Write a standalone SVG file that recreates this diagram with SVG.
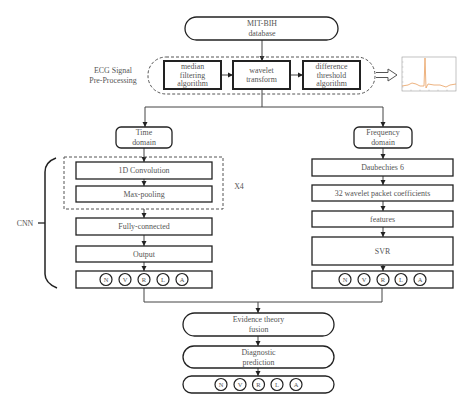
<svg xmlns="http://www.w3.org/2000/svg" width="474" height="411" viewBox="0 0 474 411">
<defs>
<marker id="ah" viewBox="0 0 10 10" refX="10" refY="5" markerWidth="5.5" markerHeight="5.5" orient="auto" markerUnits="userSpaceOnUse">
<path d="M0,0 L10,5 L0,10 z" fill="#222"/>
</marker>
<style>
.t{font-family:"Liberation Serif","DejaVu Serif",serif;font-size:7.9px;fill:#555;text-anchor:middle}
.b{fill:#fff;stroke:#222;stroke-width:1.3}
.bb{fill:#fff;stroke:#222;stroke-width:2}
.d{fill:none;stroke:#555;stroke-width:1;stroke-dasharray:3,2}
.c{fill:#fff;stroke:#222;stroke-width:1.2}
.ct{font-family:"Liberation Serif","DejaVu Serif",serif;font-size:6.5px;fill:#555;text-anchor:middle}
.ln{fill:none;stroke:#444;stroke-width:1}
.a{fill:none;stroke:#444;stroke-width:1;marker-end:url(#ah)}
</style>
</defs>
<rect width="474" height="411" fill="#fff"/>

<g id="connectors">
<line class="a" x1="262" y1="40" x2="262" y2="61"/>
<line class="a" x1="221" y1="75" x2="233" y2="75"/>
<line class="a" x1="290" y1="75" x2="303" y2="75"/>
<polyline class="ln" points="262,89 262,107"/>
<polyline class="a" points="145,107 145,127"/>
<polyline class="ln" points="145,107 383,107"/>
<polyline class="a" points="383,107 383,127"/>
<line class="a" x1="144" y1="148" x2="144" y2="162"/>
<line class="a" x1="144" y1="179" x2="144" y2="186"/>
<line class="a" x1="144" y1="209" x2="144" y2="218"/>
<line class="a" x1="144" y1="235" x2="144" y2="246"/>
<line class="a" x1="144" y1="262" x2="144" y2="271"/>
<line class="a" x1="383" y1="148" x2="383" y2="159"/>
<line class="a" x1="383" y1="176" x2="383" y2="185"/>
<line class="a" x1="383" y1="201" x2="383" y2="211"/>
<line class="a" x1="383" y1="227" x2="383" y2="237"/>
<line class="a" x1="383" y1="265" x2="383" y2="271"/>
<polyline class="ln" points="144,288 144,302 382,302 382,288"/>
<line class="a" x1="258" y1="302" x2="258" y2="313"/>
<line class="a" x1="258" y1="336" x2="258" y2="346"/>
<line class="a" x1="258" y1="368" x2="258" y2="376"/>
<path d="M376,72.5 L388,72.5 L388,69 L397,75 L388,81 L388,77.5 L376,77.5" fill="#fff" stroke="#555" stroke-width="1"/>
</g>

<g id="mitbih">
<rect class="b" x="185" y="17" width="153" height="23" rx="11.5"/>
<text class="t" x="262" y="26">MIT-BIH</text>
<text class="t" x="262" y="35.5">database</text>
</g>

<g id="preprocessing">
<rect class="d" x="148" y="57" width="227" height="37" rx="18"/>
<text class="t" x="113" y="73">ECG Signal</text>
<text class="t" x="113" y="83">Pre-Processing</text>
</g>
<g id="median">
<rect class="bb" x="164" y="61" width="57" height="28"/>
<text class="t" x="192.5" y="69">median</text>
<text class="t" x="192.5" y="77.5">filtering</text>
<text class="t" x="192.5" y="86">algorithm</text>
</g>
<g id="wavelet">
<rect class="bb" x="233" y="61" width="57" height="28"/>
<text class="t" x="261.5" y="73">wavelet</text>
<text class="t" x="261.5" y="82">transform</text>
</g>
<g id="difference">
<rect class="bb" x="303" y="61" width="57" height="28"/>
<text class="t" x="331.5" y="69">difference</text>
<text class="t" x="331.5" y="77.5">threshold</text>
<text class="t" x="331.5" y="86">algorithm</text>
</g>

<g id="ecgplot">
<rect x="402" y="57" width="54" height="34" fill="#fff" stroke="#999" stroke-width="0.6"/>
<polyline points="402,86 408,85 412,83 416,84 420,86 424,86 425,58 426,88 428,84 434,85 440,85 446,87 450,85 456,84" fill="none" stroke="#e8a060" stroke-width="0.8"/>
<g stroke="#999" stroke-width="0.4">
<line x1="411" y1="91" x2="411" y2="89.5"/><line x1="420" y1="91" x2="420" y2="89.5"/><line x1="429" y1="91" x2="429" y2="89.5"/><line x1="438" y1="91" x2="438" y2="89.5"/><line x1="447" y1="91" x2="447" y2="89.5"/>
<line x1="402" y1="62" x2="403.5" y2="62"/><line x1="402" y1="67" x2="403.5" y2="67"/><line x1="402" y1="72" x2="403.5" y2="72"/><line x1="402" y1="77" x2="403.5" y2="77"/><line x1="402" y1="82" x2="403.5" y2="82"/><line x1="402" y1="87" x2="403.5" y2="87"/>
</g>
</g>

<g id="time">
<rect class="b" x="116" y="127" width="56" height="21" rx="5"/>
<text class="t" x="144" y="135">Time</text>
<text class="t" x="144" y="144.5">domain</text>
</g>
<g id="freq">
<rect class="b" x="354" y="127" width="58" height="21" rx="5"/>
<text class="t" x="383" y="135">Frequency</text>
<text class="t" x="383" y="144.5">domain</text>
</g>

<g id="x4block">
<rect class="d" x="64" y="157" width="159" height="52"/>
<text class="t" x="239" y="189">X4</text>
</g>
<g id="conv">
<rect class="b" x="76" y="162" width="136" height="17"/>
<text class="t" x="144" y="173">1D Convolution</text>
</g>
<g id="maxpool">
<rect class="b" x="76" y="186" width="136" height="16"/>
<text class="t" x="144" y="197">Max-pooling</text>
</g>
<g id="fc">
<rect class="b" x="76" y="218" width="136" height="17"/>
<text class="t" x="144" y="229">Fully-connected</text>
</g>
<g id="output">
<rect class="b" x="76" y="246" width="136" height="16"/>
<text class="t" x="144" y="257">Output</text>
</g>
<g id="cnnclasses">
<rect class="b" x="76" y="271" width="136" height="17"/>
<circle class="c" cx="106" cy="279.5" r="6"/><text class="ct" x="106" y="282">N</text>
<circle class="c" cx="125" cy="279.5" r="6"/><text class="ct" x="125" y="282">V</text>
<circle class="c" cx="144" cy="279.5" r="6"/><text class="ct" x="144" y="282">R</text>
<circle class="c" cx="163" cy="279.5" r="6"/><text class="ct" x="163" y="282">L</text>
<circle class="c" cx="182" cy="279.5" r="6"/><text class="ct" x="182" y="282">A</text>
</g>
<g id="cnn">
<path d="M56,158 Q45,162 45,172 L45,274 Q45,283 57,288" fill="none" stroke="#222" stroke-width="1.5"/>
<line x1="38" y1="223" x2="45" y2="223" stroke="#222" stroke-width="1.3"/>
<text class="t" x="25" y="226">CNN</text>
</g>

<g id="daub">
<rect class="b" x="312" y="159" width="141" height="17"/>
<text class="t" x="382.5" y="170">Daubechies 6</text>
</g>
<g id="wpc">
<rect class="b" x="312" y="185" width="141" height="16"/>
<text class="t" x="382.5" y="196">32 wavelet packet coefficients</text>
</g>
<g id="features">
<rect class="b" x="312" y="211" width="141" height="16"/>
<text class="t" x="382.5" y="222">features</text>
</g>
<g id="svr">
<rect class="b" x="312" y="237" width="141" height="28"/>
<text class="t" x="382.5" y="254">SVR</text>
</g>
<g id="svrclasses">
<rect class="b" x="312" y="271" width="141" height="17"/>
<circle class="c" cx="345" cy="279.5" r="6"/><text class="ct" x="345" y="282">N</text>
<circle class="c" cx="364" cy="279.5" r="6"/><text class="ct" x="364" y="282">V</text>
<circle class="c" cx="383" cy="279.5" r="6"/><text class="ct" x="383" y="282">R</text>
<circle class="c" cx="401" cy="279.5" r="6"/><text class="ct" x="401" y="282">L</text>
<circle class="c" cx="420" cy="279.5" r="6"/><text class="ct" x="420" y="282">A</text>
</g>

<g id="evidence">
<rect class="b" x="183" y="313" width="151" height="23" rx="11.5"/>
<text class="t" x="258.5" y="322">Evidence theory</text>
<text class="t" x="258.5" y="332">fusion</text>
</g>
<g id="diagnostic">
<rect class="b" x="183" y="346" width="151" height="22" rx="11"/>
<text class="t" x="258.5" y="355">Diagnostic</text>
<text class="t" x="258.5" y="364.5">prediction</text>
</g>
<g id="finalclasses">
<rect class="b" x="183" y="376" width="151" height="17" rx="8.5"/>
<circle class="c" cx="221" cy="384.5" r="6"/><text class="ct" x="221" y="387">N</text>
<circle class="c" cx="240" cy="384.5" r="6"/><text class="ct" x="240" y="387">V</text>
<circle class="c" cx="258.5" cy="384.5" r="6"/><text class="ct" x="258.5" y="387">R</text>
<circle class="c" cx="277" cy="384.5" r="6"/><text class="ct" x="277" y="387">L</text>
<circle class="c" cx="296" cy="384.5" r="6"/><text class="ct" x="296" y="387">A</text>
</g>
</svg>
